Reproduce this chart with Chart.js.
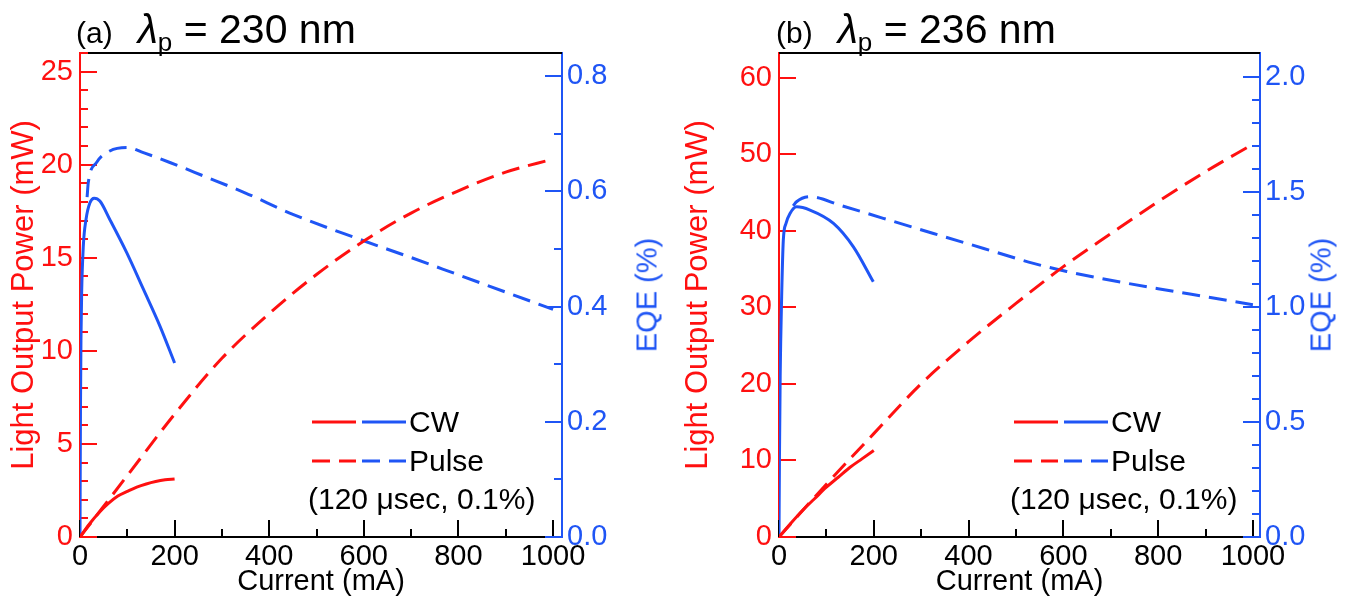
<!DOCTYPE html>
<html><head><meta charset="utf-8">
<script src="https://cdn.jsdelivr.net/npm/chart.js@4.4.1/dist/chart.umd.min.js"></script>
<style>
html,body{margin:0;padding:0;background:#fff;}
body{width:1348px;height:602px;position:relative;overflow:hidden;font-family:"Liberation Sans",Arial,sans-serif;}
.pane{position:absolute;top:0;width:674px;height:602px;}
.ttl{position:absolute;top:9px;font-size:30px;color:#000;white-space:nowrap;line-height:1;}
.ttl .lam{font-size:41px;margin-left:25px}
.ttl .lam i{font-style:italic}
.ttl sub{font-size:26px;vertical-align:-8px;line-height:0}
.eqe{position:absolute;font-size:29px;color:#1f55f5;white-space:nowrap;line-height:1;transform:translate(-50%,-50%) rotate(-90deg);}
.leg{position:absolute;font-size:30px;white-space:nowrap;line-height:1;color:#000;}
svg.ls{position:absolute;overflow:visible;width:100px;height:6px;}
</style></head>
<body>
<div class="pane" style="left:0"><canvas id="ca" width="674" height="602"></canvas></div>
<div class="pane" style="left:674px"><canvas id="cb" width="674" height="602"></canvas></div>

<div class="ttl" style="left:76px">(a)<span class="lam"><i>λ</i><sub>p</sub> = 230 nm</span></div>
<div class="ttl" style="left:776px">(b)<span class="lam"><i>λ</i><sub>p</sub> = 236 nm</span></div>

<div class="eqe" style="left:647px;top:295px">EQE (%)</div>
<div class="eqe" style="left:1321px;top:295px">EQE (%)</div>

<div id="legA"></div>
<div id="legB"></div>

<script>
// ---------- shared ----------
const currentTicks = [0, 200, 400, 600, 800, 1000];

// ---------- (a) λp = 230 nm ----------
const a_powerTicks = [0, 5, 10, 15, 20, 25];
const a_eqeTicks = [0, 0.2, 0.4, 0.6, 0.8];
const a_cw_I = [0, 20, 40, 60, 80, 100, 120, 140, 160, 180, 200];
const a_cw_P = [0, 0.7, 1.3, 1.8, 2.2, 2.45, 2.68, 2.85, 2.98, 3.07, 3.12];
const a_pulse_I = [0, 100, 200, 300, 400, 500, 600, 700, 800, 900, 1000];
const a_pulse_P = [0, 3.3, 6.6, 9.6, 12.0, 14.1, 15.9, 17.4, 18.6, 19.6, 20.3];
const a_cwEqe_I = [0, 1, 2, 3.5, 7, 12.7, 21, 30, 42, 63, 99, 134, 169, 200];
const a_cwEqe_E = [0, 0.22, 0.34, 0.424, 0.505, 0.551, 0.580, 0.588, 0.583, 0.551, 0.493, 0.430, 0.366, 0.302];
const a_pulseEqe_I = [15, 17.5, 35, 63, 100, 134, 190, 260, 350, 450, 590, 700, 800, 900, 1000];
const a_pulseEqe_E = [0.59, 0.615, 0.650, 0.670, 0.676, 0.667, 0.650, 0.627, 0.597, 0.560, 0.517, 0.485, 0.455, 0.425, 0.395];

// ---------- (b) λp = 236 nm ----------
const b_powerTicks = [0, 10, 20, 30, 40, 50, 60];
const b_eqeTicks = [0, 0.5, 1.0, 1.5, 2.0];
const b_cw_I = [0, 25, 50, 75, 100, 125, 150, 175, 200];
const b_cw_P = [0, 1.8, 3.5, 5.0, 6.5, 7.8, 9.1, 10.2, 11.3];
const b_pulse_I = [0, 100, 200, 300, 400, 500, 600, 700, 800, 900, 1000];
const b_pulse_P = [0, 6.9, 13.5, 20.0, 25.5, 30.5, 35.3, 39.6, 43.8, 47.7, 51.3];
const b_cwEqe_I = [0, 1, 2.5, 5.6, 9.1, 14.8, 23.2, 37.4, 65.4, 115, 157, 199];
const b_cwEqe_E = [0, 0.35, 0.7, 1.045, 1.291, 1.364, 1.407, 1.436, 1.422, 1.364, 1.262, 1.11];
const b_pulseEqe_I = [30, 37, 65, 129, 220, 326, 432, 537, 607, 678, 800, 900, 1000];
const b_pulseEqe_E = [1.44, 1.458, 1.480, 1.443, 1.386, 1.320, 1.255, 1.190, 1.155, 1.125, 1.080, 1.045, 1.010];

const legendLabels = ['CW', 'Pulse', '(120 μsec, 0.1%)'];

const RED = '#ff1010';
const BLUE = '#1f55f5';
Chart.defaults.font.family = "'Liberation Sans', Arial, sans-serif";

function zip(xs, ys) { return xs.map((x, i) => ({x: x, y: ys[i]})); }

const frameTicks = {
  id: 'frameTicks',
  beforeDatasetsDraw(chart, args, o) {
    const ctx = chart.ctx, ca = chart.chartArea;
    ctx.save();
    ctx.lineWidth = 2;
    ctx.strokeStyle = '#000';
    ctx.beginPath(); ctx.moveTo(ca.left, ca.top); ctx.lineTo(ca.right, ca.top); ctx.stroke();
    const draw = (scale, major, minor, maxV, color, side) => {
      ctx.strokeStyle = color;
      const n = Math.round(maxV / minor);
      for (let i = 0; i <= n; i++) {
        const v = i * minor;
        const r = v / major;
        const isMajor = Math.abs(r - Math.round(r)) < 1e-6;
        const len = isMajor ? 17 : 8;
        const p = Math.round(scale.getPixelForValue(v));
        ctx.beginPath();
        if (side === 'bottom') { ctx.moveTo(p, ca.bottom); ctx.lineTo(p, ca.bottom - len); }
        else if (side === 'left') { ctx.moveTo(ca.left, p); ctx.lineTo(ca.left + len, p); }
        else { ctx.moveTo(ca.right, p); ctx.lineTo(ca.right - len, p); }
        ctx.stroke();
      }
    };
    draw(chart.scales.x, 200, 100, 1000, '#000', 'bottom');
    draw(chart.scales.y, o.yMajor, o.yMinor, o.yLast, RED, 'left');
    draw(chart.scales.y1, o.y1Major, o.y1Minor, o.y1Last, BLUE, 'right');
    ctx.restore();
  }
};

function build(id, d) {
  return new Chart(document.getElementById(id), {
    type: 'line',
    data: { datasets: [
      {label: 'CW power', data: zip(d.cwI, d.cwP), yAxisID: 'y', borderColor: RED},
      {label: 'Pulse power', data: zip(d.puI, d.puP), yAxisID: 'y', borderColor: RED, borderDash: [18, 9]},
      {label: 'CW EQE', data: zip(d.cwEI, d.cwE), yAxisID: 'y1', borderColor: BLUE},
      {label: 'Pulse EQE', data: zip(d.puEI, d.puE), yAxisID: 'y1', borderColor: BLUE, borderDash: [18, 9]}
    ]},
    options: {
      responsive: false, animation: false,
      layout: {padding: {top: 53, left: 0, right: 0, bottom: 0}},
      elements: {point: {radius: 0}, line: {borderWidth: 3, cubicInterpolationMode: 'monotone', fill: false}},
      plugins: {legend: {display: false}, tooltip: {enabled: false}, frameTicks: d.tk},
      scales: {
        x: {type: 'linear', position: 'bottom', min: 0, max: d.xMax,
          afterFit(s) { s.height = 65; },
          afterBuildTicks(s) { s.ticks = currentTicks.map(v => ({value: v})); },
          ticks: {color: '#000', font: {size: 29}, padding: 3, maxRotation: 0, autoSkip: false, callback: v => String(v)},
          grid: {display: false, drawTicks: false},
          border: {display: true, color: '#000', width: 2},
          title: {display: true, text: 'Current (mA)', color: '#000', font: {size: 29}, padding: {top: 0, bottom: 3}}},
        y: {type: 'linear', position: 'left', min: 0, max: d.yMax,
          afterFit(s) { s.width = d.leftW; },
          afterBuildTicks(s) { s.ticks = d.yTicks.map(v => ({value: v})); },
          ticks: {color: RED, font: {size: 29}, padding: 7, autoSkip: false, callback: v => String(v)},
          grid: {display: false, drawTicks: false},
          border: {display: true, color: RED, width: 2},
          title: {display: true, text: 'Light Output Power (mW)', color: RED, font: {size: 31}, padding: {top: d.titlePad, bottom: 0}}},
        y1: {type: 'linear', position: 'right', min: 0, max: d.y1Max,
          afterFit(s) { s.width = d.rightW; },
          afterBuildTicks(s) { s.ticks = d.y1Ticks.map(v => ({value: v})); },
          ticks: {color: BLUE, font: {size: 29}, padding: 5, autoSkip: false, callback: v => Number(v).toFixed(1)},
          grid: {display: false, drawTicks: false},
          border: {display: true, color: BLUE, width: 2}}
      }
    },
    plugins: [frameTicks]
  });
}

build('ca', {
  cwI: a_cw_I, cwP: a_cw_P, puI: a_pulse_I, puP: a_pulse_P,
  cwEI: a_cwEqe_I, cwE: a_cwEqe_E, puEI: a_pulseEqe_I, puE: a_pulseEqe_E,
  xMax: 1019, yMax: 26, y1Max: 0.84, leftW: 80, rightW: 112, titlePad: 6,
  yTicks: a_powerTicks, y1Ticks: a_eqeTicks,
  tk: {yMajor: 5, yMinor: 1, yLast: 26, y1Major: 0.2, y1Minor: 0.1, y1Last: 0.8}
});
build('cb', {
  cwI: b_cw_I, cwP: b_cw_P, puI: b_pulse_I, puP: b_pulse_P,
  cwEI: b_cwEqe_I, cwE: b_cwEqe_E, puEI: b_pulseEqe_I, puE: b_pulseEqe_E,
  xMax: 1015, yMax: 63.2, y1Max: 2.105, leftW: 105, rightW: 88, titlePad: 6,
  yTicks: b_powerTicks, y1Ticks: b_eqeTicks,
  tk: {yMajor: 10, yMinor: 10, yLast: 60, y1Major: 0.5, y1Minor: 0.1, y1Last: 2.0}
});

// ---------- legends (HTML) ----------
function legend(el, x0, y0) {
  const rows = [
    {y: y0, dash: '', text: legendLabels[0]},
    {y: y0 + 39, dash: '18 9', text: legendLabels[1]},
  ];
  let html = '';
  rows.forEach(r => {
    const da = r.dash ? `stroke-dasharray="${r.dash}"` : '';
    html += `<svg class="ls" style="left:${x0}px;top:${r.y - 3}px">` +
      `<line x1="0" y1="3" x2="44" y2="3" stroke="${RED}" stroke-width="3" ${da}/>` +
      `<line x1="50" y1="3" x2="94" y2="3" stroke="${BLUE}" stroke-width="3" ${da}/></svg>` +
      `<div class="leg" style="left:${x0 + 97}px;top:${r.y - 15}px">${r.text}</div>`;
  });
  html += `<div class="leg" style="left:${x0 - 4}px;top:${y0 + 39 * 2 - 16}px">${legendLabels[2]}</div>`;
  el.innerHTML = html;
}
legend(document.getElementById('legA'), 312, 422);
legend(document.getElementById('legB'), 1014, 422);
</script>
</body></html>
